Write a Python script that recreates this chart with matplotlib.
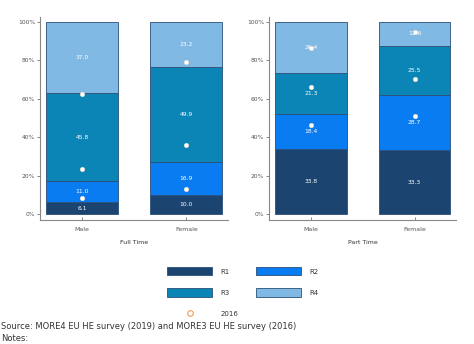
import matplotlib
matplotlib.use("Agg")
import matplotlib.pyplot as plt
from matplotlib.patches import Patch
from matplotlib.lines import Line2D
import numpy as np

# values (percent of each group)
groups = ['Male', 'Female']
panels = ['Full Time', 'Part Time']
series = ['R1', 'R2', 'R3', 'R4']

full_r1 = [6.1, 10.0]
full_r2 = [11.0, 16.9]
full_r3 = [45.8, 49.9]
full_r4 = [37.0, 23.2]

part_r1 = [33.8, 33.3]
part_r2 = [18.4, 28.7]
part_r3 = [21.3, 25.5]
part_r4 = [26.4, 12.6]

# 2016 cumulative positions (markers)
full_2016 = [[8.5, 23.5, 62.5], [13.0, 35.7, 79.1]]
part_2016 = [[46.3, 66.1, 86.4], [51.0, 70.3, 95.0]]

colors = ['#1b4470', '#0a7cf2', '#0b84b6', '#80b9e4']
edge = '#2a4f78'
grey = '#555555'

fig = plt.figure(figsize=(4.74, 3.44), dpi=100)


def draw_panel(ax, data, marks, title):
    x = np.arange(len(groups))
    bottom = np.zeros(len(groups))
    for vals, col in zip(data, colors):
        ax.bar(x, vals, 0.69, bottom=bottom, color=col, edgecolor=edge, linewidth=0.6)
        for xi, v, b in zip(x, vals, bottom):
            ax.text(xi, b + v / 2, f'{v:.1f}', ha='center', va='center',
                    color='white', fontsize=4.3)
        bottom = bottom + np.array(vals)
    for xi, m in zip(x, marks):
        ax.plot([xi] * len(m), m, 'o', ms=3.2, mfc='white', mec='#f3dcc2',
                mew=0.4, linestyle='none', zorder=5)
    ax.set_xlim(-0.404, 1.40)
    ax.set_ylim(-3.1, 102.6)
    ax.set_yticks([0, 20, 40, 60, 80, 100])
    ax.set_yticklabels([f'{t}%' for t in range(0, 101, 20)])
    ax.set_xticks(x)
    ax.set_xticklabels(groups)
    ax.tick_params(axis='y', labelsize=4.3, colors=grey, length=2, width=0.5, pad=1.5)
    ax.tick_params(axis='x', labelsize=4.5, colors=grey, length=2, width=0.5,
                   direction='in', pad=5)
    ax.set_xlabel(title, fontsize=4.5, color='#333333', labelpad=6)
    for s in ['top', 'right']:
        ax.spines[s].set_visible(False)
    for s in ['left', 'bottom']:
        ax.spines[s].set_color('#888888')
        ax.spines[s].set_linewidth(0.8)


ax1 = fig.add_axes([40 / 474, 124 / 344, 188 / 474, 203 / 344])
ax2 = fig.add_axes([269 / 474, 124 / 344, 187 / 474, 203 / 344])
draw_panel(ax1, [full_r1, full_r2, full_r3, full_r4], full_2016, panels[0])
draw_panel(ax2, [part_r1, part_r2, part_r3, part_r4], part_2016, panels[1])

handles = [Patch(facecolor=colors[0], edgecolor=edge, linewidth=0.6),
           Patch(facecolor=colors[2], edgecolor=edge, linewidth=0.6),
           Line2D([], [], marker='o', ls='none', ms=4, mfc='none', mec='#e8903a', mew=0.7),
           Patch(facecolor=colors[1], edgecolor=edge, linewidth=0.6),
           Patch(facecolor=colors[3], edgecolor=edge, linewidth=0.6),
           Patch(facecolor='none', edgecolor='none')]
labels = ['R1', 'R3', '2016', 'R2', 'R4', '']
leg = fig.legend(handles, labels, ncol=2, frameon=False, loc='upper left',
                 bbox_to_anchor=(167 / 474, 1 - 267 / 344), fontsize=5,
                 handlelength=6.5, handleheight=1.5, handletextpad=1.15,
                 labelspacing=1.85, columnspacing=2.6, borderpad=0, borderaxespad=0)
for t in leg.get_texts():
    t.set_color('#333333')

fig.text(0.002, 1 - 322 / 344, 'Source: MORE4 EU HE survey (2019) and MORE3 EU HE survey (2016)',
         fontsize=6.0, color='#333333', va='top', ha='left')
fig.text(0.002, 1 - 334 / 344, 'Notes:', fontsize=6.0, color='#333333', va='top', ha='left')

fig.savefig('out.png', dpi=100)
